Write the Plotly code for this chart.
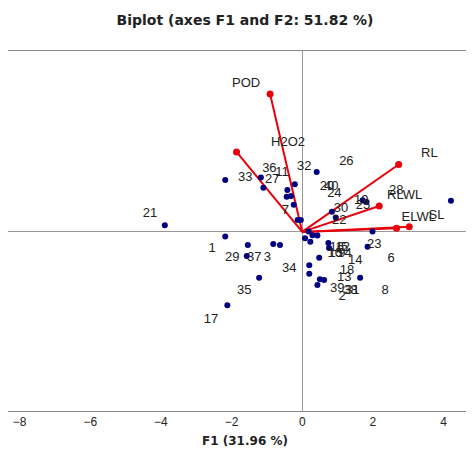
import plotly.graph_objects as go

# observations
obs_x = [-3.89,-2.18,-1.17,-1.10,-0.21,-0.42,-0.44,-0.32,-0.24,-0.13,-0.04,0.41,0.84,0.95,1.71,1.82,4.21,
         -2.18,-1.54,-1.57,-0.82,-0.63,-1.22,-2.12,0.08,0.23,0.18,0.29,0.43,0.74,0.76,0.48,0.20,0.20,0.50,0.62,0.43,1.85,1.64,1.99]
obs_y = [0.22,1.70,1.78,1.45,1.56,1.37,1.15,1.18,0.89,0.39,0.39,1.96,0.66,0.47,1.04,0.98,1.02,
         -0.15,-0.43,-0.79,-0.40,-0.43,-1.50,-2.40,-0.21,-0.32,0.01,-0.11,-0.12,-0.36,-0.53,-0.85,-1.09,-1.37,-1.55,-1.58,-1.74,-0.49,-1.50,0.01]

# observation labels
lab_text = ["21","1","29","37","3","34","35","17","33","36","11","27","32","26","20","40","24","7","30","22",
            "19","25","28","23","6","16","12","10","9","4","14","18","13","39","31","38","2","8","5","15"]
lab_x = [-4.31,-2.55,-1.98,-1.36,-0.99,-0.37,-1.64,-2.58,-1.61,-0.93,-0.57,-0.85,0.06,1.25,0.70,0.82,0.91,-0.48,1.10,1.05,
         1.67,1.72,2.66,2.04,2.52,0.98,1.15,0.92,1.12,1.30,1.50,1.27,1.19,0.99,1.42,1.37,1.13,2.35,1.20,0.95]
lab_y = [0.59,-0.56,-0.85,-0.85,-0.85,-1.21,-1.93,-2.89,1.77,2.07,1.93,1.70,2.13,2.30,1.48,1.48,1.25,0.69,0.75,0.36,
         1.02,0.85,1.34,-0.43,-0.89,-0.52,-0.52,-0.70,-0.70,-0.70,-0.95,-1.28,-1.51,-1.87,-1.93,-1.93,-2.13,-1.93,-0.52,-0.70]

# variables
var_names = ["POD","H2O2","RL","RLWL","ELWL","SL"]
var_x = [-0.91,-1.86,2.73,2.18,2.67,3.03]
var_y = [4.52,2.62,2.21,0.85,0.12,0.17]
var_lx = [-1.59,-0.40,3.60,2.90,3.30,3.80]
var_ly = [4.85,2.92,2.55,1.20,0.45,0.52]

fig = go.Figure()
for n, x, y in zip(var_names, var_x, var_y):
    fig.add_trace(go.Scatter(x=[0, x], y=[0, y], mode="lines", line=dict(color="#e8000b", width=2),
                             showlegend=False, hoverinfo="skip"))
fig.add_trace(go.Scatter(x=var_x, y=var_y, mode="markers", marker=dict(color="#e8000b", size=7), showlegend=False))
fig.add_trace(go.Scatter(x=obs_x, y=obs_y, mode="markers", marker=dict(color="#000080", size=6), showlegend=False))
fig.add_trace(go.Scatter(x=lab_x, y=lab_y, mode="text", text=lab_text,
                         textfont=dict(family="Liberation Sans", size=13, color="#222"), showlegend=False))
fig.add_trace(go.Scatter(x=var_lx, y=var_ly, mode="text", text=var_names,
                         textfont=dict(family="Liberation Sans", size=13, color="#222"), showlegend=False))

fig.update_layout(
    width=474, height=474, margin=dict(l=0, r=0, t=43, b=71),
    plot_bgcolor="white", paper_bgcolor="white",
    title=dict(text="<b>Biplot (axes F1 and F2: 51.82 %)</b>", x=0.5, y=0.985, yanchor="top", xanchor="center",
               font=dict(family="DejaVu Sans", size=14, color="#222")),
    xaxis=dict(range=[-8.33, 5.09], tickvals=[-8,-6,-4,-2,0,2,4], showgrid=False,
               zeroline=True, zerolinecolor="#999", zerolinewidth=1,
               showline=True, mirror=True, linecolor="#888", linewidth=1,
               tickfont=dict(family="Liberation Sans", size=12, color="#222"),
               title=dict(text="<b>F1 (31.96 %)</b>", font=dict(family="DejaVu Sans", size=12, color="#222"), standoff=8)),
    yaxis=dict(range=[-5.87, 5.93], showgrid=False, showticklabels=False, ticks="",
               zeroline=True, zerolinecolor="#999", zerolinewidth=1),
)
fig.write_html("out.html")
